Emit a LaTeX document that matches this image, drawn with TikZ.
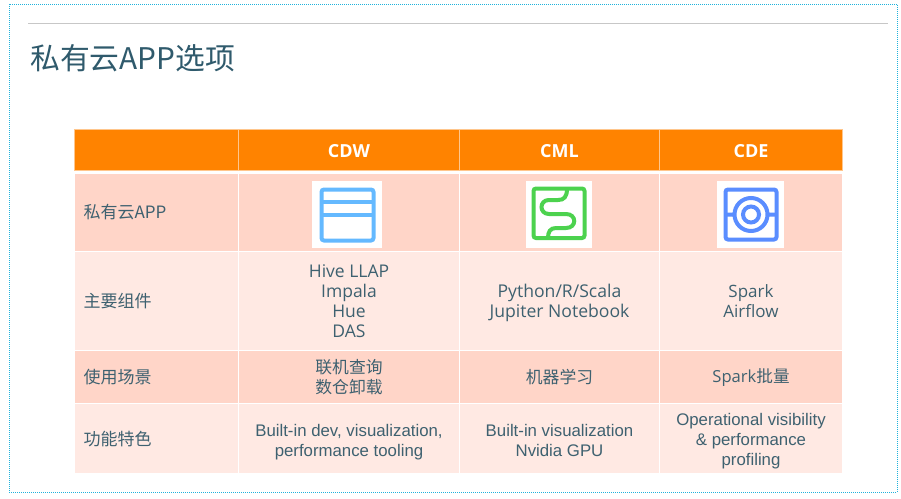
\documentclass[tikz,border=0pt]{standalone}
\usepackage{fontspec}
\usepackage{xcolor}
\setmainfont{Liberation Sans}
\newfontfamily\cjk{Noto Sans CJK SC}
\newfontfamily\headfont{Open Sans}
\usetikzlibrary{positioning}
\definecolor{headorange}{HTML}{FF8300}
\definecolor{darkrow}{HTML}{FFD5C8}
\definecolor{lightrow}{HTML}{FFE9E3}
\definecolor{inktext}{HTML}{3E6170}
\definecolor{titletext}{HTML}{2F5A6C}
\definecolor{framecyan}{HTML}{1FB2DC}
\definecolor{cdwblue}{HTML}{64B9FF}
\definecolor{cmlgreen}{HTML}{4CD24E}
\definecolor{cdeblue}{HTML}{5A8DFF}

\begin{document}
\begin{tikzpicture}[
    x=1pt,
    y=-1pt,
    cell/.style={
        rectangle,
        draw=white,
        line width=0.9pt,
        outer sep=0pt,
        inner sep=0pt,
        minimum width=#1
    },
    headcell/.style={
        cell=#1,
        draw=orange!45!white,
        fill=headorange,
        minimum height=41pt
    },
    headtext/.style={
        inner sep=0pt,
        text=white,
        font=\headfont\bfseries\fontsize{18}{20}\selectfont
    },
    bodytext/.style={
        inner sep=0pt,
        align=center,
        text=inktext,
        font=\fontsize{16.8}{20}\selectfont
    },
    sanstext/.style={
        bodytext,
        font=\headfont\fontsize{#1}{20}\selectfont
    },
    rowlabel/.style={
        inner sep=0pt,
        text width=146pt,
        align=left,
        text=inktext,
        font=\cjk\fontsize{17}{20}\selectfont
    },
    iconbase/.style={
        rectangle,
        fill=white,
        inner sep=0pt,
        minimum width=#1,
        minimum height=67pt
    },
    iconline/.style={
        line width=4pt,
        rounded corners=2.5pt
    }
]
\useasboundingbox (0,0) rectangle (901,498);

% Slide frame and title
\node[draw=framecyan, densely dotted, line width=1pt, minimum width=888pt, minimum height=488pt, anchor=north west, inner sep=0pt, outer sep=0pt] (slideframe) at (9,4) {};
\draw[black!22, line width=1pt] (28,23) coordinate (ruleleft) -- (888,23) coordinate (ruleright);
\node[anchor=west, inner sep=0pt, text=titletext, font=\cjk\fontsize{29.8}{32}\selectfont] (title) at (30,58) {私有云APP选项};

% Header row
\node[headcell=164pt, anchor=north west] (head0) at (74.5,129) {};
\node[headcell=221pt, right=0pt of head0, label={[headtext, yshift=-2pt]center:CDW}] (head1) {};
\node[headcell=200pt, right=0pt of head1, label={[headtext, yshift=-2pt]center:CML}] (head2) {};
\node[headcell=183pt, right=0pt of head2, label={[headtext, yshift=-2pt]center:CDE}] (head3) {};

% App row
\node[cell=164pt, fill=darkrow, minimum height=78pt, below=3pt of head0, label={[rowlabel]center:私有云APP}] (app0) {};
\node[cell=221pt, fill=darkrow, minimum height=78pt, right=0pt of app0] (app1) {};
\node[cell=200pt, fill=darkrow, minimum height=78pt, right=0pt of app1] (app2) {};
\node[cell=183pt, fill=darkrow, minimum height=78pt, right=0pt of app2] (app3) {};

% Component row
\node[cell=164pt, fill=lightrow, minimum height=99pt, below=0pt of app0, label={[rowlabel, yshift=-1pt]center:主要组件}] (comp0) {};
\node[cell=221pt, fill=lightrow, minimum height=99pt, right=0pt of comp0, label={[sanstext=17.5, yshift=-1pt]center:{Hive LLAP\\Impala\\Hue\\DAS}}] (comp1) {};
\node[cell=200pt, fill=lightrow, minimum height=99pt, right=0pt of comp1, label={[sanstext=17.6, yshift=-2pt]center:{Python/R/Scala\\Jupiter Notebook}}] (comp2) {};
\node[cell=183pt, fill=lightrow, minimum height=99pt, right=0pt of comp2, label={[sanstext=17, yshift=-1pt]center:{Spark\\Airflow}}] (comp3) {};

% Usage row
\node[cell=164pt, fill=darkrow, minimum height=53pt, below=0pt of comp0, label={[rowlabel, yshift=-1pt]center:使用场景}] (use0) {};
\node[cell=221pt, fill=darkrow, minimum height=53pt, right=0pt of use0, label={[bodytext, yshift=-1pt]center:{{\cjk 联机查询}\\{\cjk 数仓卸载}}}] (use1) {};
\node[cell=200pt, fill=darkrow, minimum height=53pt, right=0pt of use1, label={[bodytext, yshift=-1pt]center:{\cjk 机器学习}}] (use2) {};
\node[cell=183pt, fill=darkrow, minimum height=53pt, right=0pt of use2, label={[sanstext=16.6, yshift=-1.5pt]center:Spark{\cjk 批量}}] (use3) {};

% Feature row
\node[cell=164pt, fill=lightrow, minimum height=70pt, below=0pt of use0, label={[rowlabel, yshift=-1pt]center:功能特色}] (feat0) {};
\node[cell=221pt, fill=lightrow, minimum height=70pt, right=0pt of feat0, label={[bodytext, yshift=-4pt]center:{Built-in dev, visualization,\\performance tooling}}] (feat1) {};
\node[cell=200pt, fill=lightrow, minimum height=70pt, right=0pt of feat1, label={[bodytext, yshift=-2.5pt]center:{Built-in visualization\\Nvidia GPU}}] (feat2) {};
\node[cell=183pt, fill=lightrow, minimum height=70pt, right=0pt of feat2, label={[bodytext, yshift=-3.5pt]center:{Operational visibility\\\& performance\\profiling}}] (feat3) {};

% CDW icon
\node[iconbase=70pt] (cdwicon) at (347,214.5) {};
\draw[iconline, cdwblue] (321.5,189.5) rectangle (373.5,240.5);
\draw[cdwblue, line width=4pt] (321.5,202) -- (373.5,202) (321.5,215) -- (373.5,215);

% CML icon
\node[iconbase=66pt] (cmlicon) at (559,214.5) {};
\draw[iconline, cmlgreen] (533.5,188.5) rectangle (584.5,238);
\draw[cmlgreen, line width=4pt] (567,188.5) .. controls (567,197) and (564,200) .. (558,200)
    -- (549,200) .. controls (539,200) and (539,214) .. (549,214)
    -- (566,214) .. controls (577,214) and (577,228) .. (566,228)
    -- (556,228) .. controls (550,228) and (548,232) .. (548,238);

% CDE icon
\node[iconbase=67pt] (cdeicon) at (750.5,214.5) {};
\draw[iconline, cdeblue] (725.5,189.5) rectangle (776.5,239.5);
\draw[cdeblue, line width=4pt] (751,214.5) circle[radius=16.5pt] (751,214.5) circle[radius=8pt]
    (725.5,214.5) -- (734.5,214.5) (767.5,214.5) -- (776.5,214.5);

\end{tikzpicture}
\end{document}
